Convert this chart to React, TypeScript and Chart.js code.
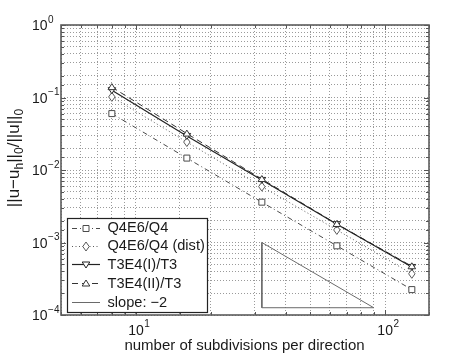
import React, { useEffect, useRef } from "react";
import { Chart, registerables } from "chart.js";

Chart.register(...registerables);

// ---- data ----
const subdivisions = [8, 16, 32, 64, 128];
const q4e6Q4 = [0.06, 0.0146, 0.0036, 0.0009, 0.000224];
const q4e6Q4Dist = [0.102, 0.0243, 0.0059, 0.00149, 0.00037];
const t3e4I = [0.126, 0.0295, 0.0073, 0.00179, 0.00046];
const t3e4II = [0.139, 0.0318, 0.0075, 0.0018, 0.00047];
const slopeX = [32, 32, 90, 32];
const slopeY = [0.001, 0.000126, 0.000126, 0.001];
const seriesNames = ["Q4E6/Q4", "Q4E6/Q4 (dist)", "T3E4(I)/T3", "T3E4(II)/T3", "slope: \u22122"];
const xDecades = [1, 2];
const yDecades = [-4, -3, -2, -1, 0];
const xTitle = "number of subdivisions per direction";

const FONT = '"Liberation Sans", Arial, Helvetica, sans-serif';
const TEXT = "#1a1a1a";

type Marker = "rect" | "diamond" | "down" | "up" | "none";
const seriesStyle: { color: string; dash: number[]; marker: Marker; width: number }[] = [
  { color: "#4a4a4a", dash: [5, 3, 1, 3], marker: "rect", width: 1 },
  { color: "#5a5a5a", dash: [1, 2.5], marker: "diamond", width: 1 },
  { color: "#222222", dash: [], marker: "down", width: 1.2 },
  { color: "#333333", dash: [6, 4], marker: "up", width: 1 },
  { color: "#6a6a6a", dash: [], marker: "none", width: 1 },
];

const pts = (xs: number[], ys: number[]) => xs.map((x, i) => ({ x, y: ys[i] }));

function drawMarker(ctx: CanvasRenderingContext2D, m: Marker, x: number, y: number, color: string) {
  ctx.save();
  ctx.setLineDash([]);
  ctx.strokeStyle = color;
  ctx.lineWidth = 1;
  ctx.beginPath();
  if (m === "rect") {
    ctx.rect(x - 3, y - 3, 6, 6);
  } else if (m === "diamond") {
    ctx.moveTo(x, y - 4.5);
    ctx.lineTo(x + 3.2, y);
    ctx.lineTo(x, y + 4.5);
    ctx.lineTo(x - 3.2, y);
    ctx.closePath();
  } else if (m === "down") {
    ctx.moveTo(x - 3.8, y - 2.5);
    ctx.lineTo(x + 3.8, y - 2.5);
    ctx.lineTo(x, y + 3.5);
    ctx.closePath();
  } else if (m === "up") {
    ctx.moveTo(x - 3.8, y + 2.5);
    ctx.lineTo(x + 3.8, y + 2.5);
    ctx.lineTo(x, y - 3.5);
    ctx.closePath();
  }
  if (m !== "none") {
    ctx.fillStyle = "#ffffff";
    ctx.fill();
    ctx.stroke();
  }
  ctx.restore();
}

const isDecade = (v: number) => Math.abs(Math.log10(v) - Math.round(Math.log10(v))) < 1e-9;

const decorPlugin = {
  id: "decor",
  afterDatasetsDraw(chart: any) {
    const ctx: CanvasRenderingContext2D = chart.ctx;
    const xs = chart.scales.x;
    const ys = chart.scales.y;
    const sets = [q4e6Q4, q4e6Q4Dist, t3e4I, t3e4II];
    sets.forEach((vals, si) => {
      vals.forEach((v, i) => {
        drawMarker(ctx, seriesStyle[si].marker, xs.getPixelForValue(subdivisions[i]), ys.getPixelForValue(v), seriesStyle[si].color);
      });
    });
  },
  afterDraw(chart: any) {
    const ctx: CanvasRenderingContext2D = chart.ctx;
    const ca = chart.chartArea;
    const xs = chart.scales.x;
    const ys = chart.scales.y;
    ctx.save();
    // inner tick marks
    ctx.strokeStyle = "#555";
    ctx.lineWidth = 1;
    ctx.setLineDash([]);
    ctx.beginPath();
    xs.ticks.forEach((t: any) => {
      const px = Math.round(xs.getPixelForValue(t.value)) + 0.5;
      const len = isDecade(t.value) ? 5 : 3;
      ctx.moveTo(px, ca.bottom);
      ctx.lineTo(px, ca.bottom - len);
      ctx.moveTo(px, ca.top);
      ctx.lineTo(px, ca.top + len);
    });
    ys.ticks.forEach((t: any) => {
      const py = Math.round(ys.getPixelForValue(t.value)) + 0.5;
      const len = isDecade(t.value) ? 5 : 3;
      ctx.moveTo(ca.left, py);
      ctx.lineTo(ca.left + len, py);
      ctx.moveTo(ca.right, py);
      ctx.lineTo(ca.right - len, py);
    });
    ctx.stroke();
    // frame
    ctx.strokeStyle = "#5c5c5c";
    ctx.lineWidth = 1.6;
    ctx.strokeRect(ca.left, ca.top, ca.right - ca.left, ca.bottom - ca.top);

    // tick labels
    ctx.fillStyle = TEXT;
    ctx.textBaseline = "middle";
    yDecades.forEach((e) => {
      const py = ys.getPixelForValue(Math.pow(10, e));
      ctx.font = `14px ${FONT}`;
      ctx.textAlign = "left";
      const x0 = ca.left - 29;
      ctx.fillText("10", x0, py + 1.5);
      const w = ctx.measureText("10").width;
      ctx.font = `10px ${FONT}`;
      ctx.fillText(e === 0 ? "0" : "\u2212" + String(-e), x0 + w + 0.5, py - 5);
    });
    xDecades.forEach((e) => {
      const px = xs.getPixelForValue(Math.pow(10, e));
      ctx.font = `14px ${FONT}`;
      ctx.textAlign = "center";
      ctx.fillText("10", px, ca.bottom + 16);
      const w = ctx.measureText("10").width;
      ctx.font = `10px ${FONT}`;
      ctx.textAlign = "left";
      ctx.fillText(String(e), px + w / 2 + 0.5, ca.bottom + 9);
    });

    // x title
    ctx.font = `15px ${FONT}`;
    ctx.textAlign = "center";
    ctx.fillText(xTitle, (ca.left + ca.right) / 2 - 0.5, ca.bottom + 30.5);

    // y title (rotated with subscripts)
    const pieces: [string, boolean][] = [
      ["||u\u2212u", false],
      ["h", true],
      ["||", false],
      ["0", true],
      ["/||u||", false],
      ["0", true],
    ];
    ctx.save();
    ctx.translate(14, 158);
    ctx.rotate(-Math.PI / 2);
    ctx.textAlign = "left";
    let total = 0;
    pieces.forEach(([t, sub]) => {
      ctx.font = `${sub ? 12 : 17}px ${FONT}`;
      total += ctx.measureText(t).width;
    });
    let cx = -total / 2;
    pieces.forEach(([t, sub]) => {
      ctx.font = `${sub ? 12 : 17}px ${FONT}`;
      ctx.fillText(t, cx, sub ? 6 : 0);
      cx += ctx.measureText(t).width;
    });
    ctx.restore();

    // legend
    const lx = 67, ly = 218, lw = 140, lh = 94;
    ctx.fillStyle = "#ffffff";
    ctx.fillRect(lx, ly, lw, lh);
    ctx.strokeStyle = "#222";
    ctx.lineWidth = 1.2;
    ctx.strokeRect(lx + 0.5, ly + 0.5, lw, lh);
    const rows = [227.7, 245.9, 264.4, 283.2, 302.2];
    seriesNames.forEach((name, i) => {
      const st = seriesStyle[i];
      const y = rows[i];
      ctx.save();
      ctx.strokeStyle = st.color;
      ctx.lineWidth = st.width;
      ctx.setLineDash(st.dash);
      ctx.beginPath();
      ctx.moveTo(72, Math.round(y) + 0.5);
      ctx.lineTo(100, Math.round(y) + 0.5);
      ctx.stroke();
      ctx.restore();
      drawMarker(ctx, st.marker, 86, Math.round(y) + 0.5, st.color);
      ctx.fillStyle = TEXT;
      ctx.font = `14.6px ${FONT}`;
      ctx.textAlign = "left";
      ctx.textBaseline = "middle";
      ctx.fillText(name, 107.5, y + 0.5);
    });
    ctx.restore();
  },
};

export default function App() {
  const ref = useRef<HTMLCanvasElement | null>(null);
  useEffect(() => {
    if (!ref.current) return;
    const sets = [q4e6Q4, q4e6Q4Dist, t3e4I, t3e4II];
    const datasets: any[] = sets.map((vals, i) => ({
      label: seriesNames[i],
      data: pts(subdivisions, vals),
      borderColor: seriesStyle[i].color,
      borderWidth: seriesStyle[i].width,
      borderDash: seriesStyle[i].dash,
      pointRadius: 0,
      fill: false,
      tension: 0,
    }));
    datasets.push({
      label: seriesNames[4],
      data: pts(slopeX, slopeY),
      borderColor: seriesStyle[4].color,
      borderWidth: 1,
      pointRadius: 0,
      fill: false,
      tension: 0,
    });
    const chart = new Chart(ref.current, {
      type: "line",
      data: { datasets },
      options: {
        responsive: false,
        animation: false,
        devicePixelRatio: 1,
        layout: { padding: { left: 61, top: 25, right: 45, bottom: 40 } },
        plugins: { legend: { display: false }, tooltip: { enabled: false } },
        scales: {
          x: {
            type: "logarithmic",
            min: 5,
            max: 150,
            ticks: { display: false },
            grid: { color: "#9a9a9a", lineWidth: 1, drawTicks: false },
            border: { display: false, dash: [1, 2] },
          },
          y: {
            type: "logarithmic",
            min: 0.0001,
            max: 1,
            ticks: { display: false },
            grid: { color: "#9a9a9a", lineWidth: 1, drawTicks: false },
            border: { display: false, dash: [1, 2] },
          },
        },
      },
      plugins: [decorPlugin],
    });
    return () => chart.destroy();
  }, []);
  return (
    <div style={{ position: "absolute", left: 0, top: 0, width: 474, height: 355, background: "#fff" }}>
      <canvas ref={ref} width={474} height={355} style={{ display: "block" }} />
    </div>
  );
}
